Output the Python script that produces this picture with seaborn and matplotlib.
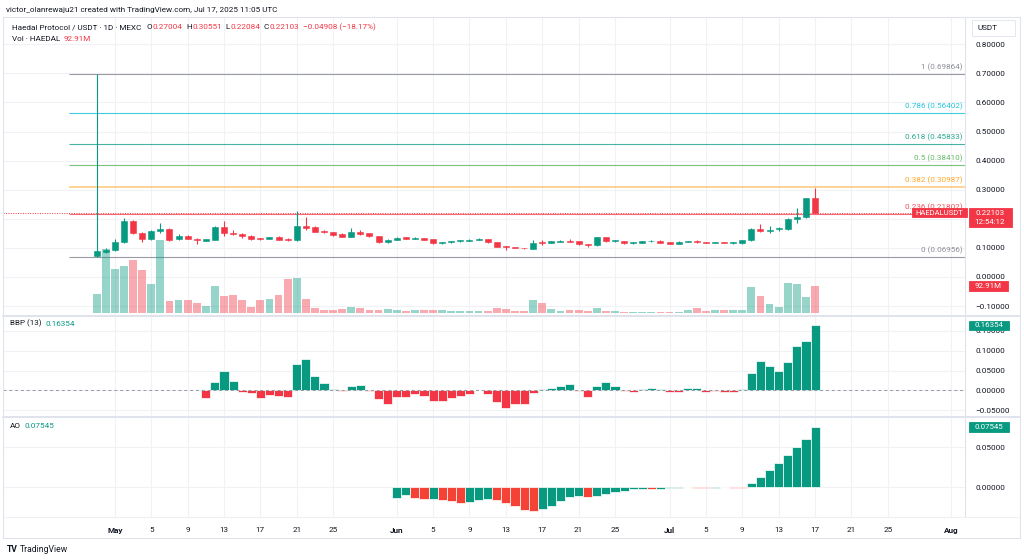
import numpy as np
import pandas as pd
import matplotlib
matplotlib.use("Agg")
import matplotlib.pyplot as plt
import matplotlib.dates as mdates
from matplotlib.ticker import FixedLocator, FuncFormatter
from matplotlib.patches import Rectangle
from matplotlib.lines import Line2D
from matplotlib.transforms import IdentityTransform
import seaborn as sns

# ---------------- data ----------------
dates = pd.date_range("2025-04-29", periods=80, freq="D")

open_ = [0.072, 0.087, 0.093, 0.121, 0.192, 0.152, 0.130, 0.158, 0.166, 0.130,
         0.141, 0.131, 0.125, 0.128, 0.173, 0.152, 0.149, 0.142, 0.132, 0.131,
         0.138, 0.130, 0.126, 0.175, 0.172, 0.157, 0.153, 0.148, 0.139, 0.155,
         0.150, 0.141, 0.120, 0.128, 0.136, 0.132, 0.133, 0.130, 0.116, 0.120,
         0.123, 0.124, 0.128, 0.130, 0.119, 0.105, 0.102, 0.100, 0.097, 0.119,
         0.117, 0.121, 0.125, 0.123, 0.113, 0.109, 0.136, 0.123, 0.123, 0.116,
         0.118, 0.122, 0.124, 0.119, 0.114, 0.121, 0.124, 0.120, 0.117, 0.120,
         0.117, 0.117, 0.126, 0.164, 0.158, 0.164, 0.166, 0.200, 0.207, 0.27004]
high = [0.69864, 0.099, 0.131, 0.204, 0.197, 0.155, 0.160, 0.184, 0.170, 0.148,
        0.143, 0.133, 0.132, 0.175, 0.193, 0.163, 0.152, 0.143, 0.134, 0.138,
        0.140, 0.133, 0.226, 0.207, 0.174, 0.160, 0.156, 0.150, 0.167, 0.163,
        0.152, 0.142, 0.129, 0.137, 0.137, 0.138, 0.135, 0.131, 0.121, 0.124,
        0.126, 0.129, 0.133, 0.131, 0.120, 0.106, 0.103, 0.101, 0.127, 0.127,
        0.123, 0.127, 0.129, 0.124, 0.114, 0.138, 0.138, 0.128, 0.124, 0.120,
        0.123, 0.126, 0.126, 0.120, 0.122, 0.125, 0.126, 0.121, 0.121, 0.121,
        0.121, 0.128, 0.170, 0.181, 0.175, 0.172, 0.203, 0.236, 0.272, 0.30551]
low = [0.06956, 0.083, 0.090, 0.118, 0.148, 0.121, 0.127, 0.152, 0.125, 0.128,
       0.129, 0.113, 0.122, 0.126, 0.142, 0.143, 0.133, 0.128, 0.128, 0.129,
       0.126, 0.125, 0.124, 0.163, 0.154, 0.151, 0.142, 0.137, 0.137, 0.145,
       0.139, 0.118, 0.116, 0.126, 0.130, 0.129, 0.126, 0.114, 0.114, 0.118,
       0.121, 0.122, 0.126, 0.117, 0.102, 0.094, 0.098, 0.097, 0.095, 0.111,
       0.116, 0.119, 0.119, 0.110, 0.102, 0.108, 0.121, 0.120, 0.115, 0.115,
       0.117, 0.120, 0.117, 0.113, 0.113, 0.120, 0.118, 0.116, 0.116, 0.116,
       0.115, 0.115, 0.125, 0.154, 0.151, 0.158, 0.163, 0.187, 0.203, 0.22084]
close = [0.088, 0.094, 0.121, 0.192, 0.152, 0.130, 0.158, 0.166, 0.128, 0.141,
         0.131, 0.126, 0.129, 0.173, 0.152, 0.148, 0.142, 0.130, 0.130, 0.137,
         0.128, 0.127, 0.175, 0.169, 0.156, 0.153, 0.146, 0.139, 0.154, 0.148,
         0.141, 0.120, 0.128, 0.135, 0.132, 0.134, 0.128, 0.116, 0.120, 0.123,
         0.125, 0.128, 0.130, 0.119, 0.104, 0.102, 0.099, 0.098, 0.118, 0.117,
         0.122, 0.125, 0.121, 0.112, 0.111, 0.136, 0.123, 0.125, 0.116, 0.118,
         0.122, 0.124, 0.118, 0.114, 0.121, 0.124, 0.119, 0.117, 0.120, 0.117,
         0.120, 0.127, 0.164, 0.157, 0.163, 0.166, 0.200, 0.207, 0.27004, 0.22103]
volume_m = [66.8, 221.6, 150.4, 160.7, 183.7, 149.3, 98.7, 250.1, 41.3, 43.7,
            43.7, 34.4, 25.5, 91.8, 58.5, 63.3, 43.7, 20.6, 46.1, 49.5,
            60.9, 117.0, 121.4, 48.2, 18.2, 11.4, 11.4, 13.8, 21.7, 17.2,
            11.4, 10.3, 13.8, 11.4, 7.9, 11.4, 9.3, 11.4, 9.3, 6.9,
            5.8, 7.9, 7.9, 7.9, 16.2, 13.8, 7.9, 7.9, 44.7, 35.4,
            13.8, 7.9, 9.3, 9.3, 5.8, 18.2, 6.9, 6.9, 4.5, 3.4,
            3.4, 3.4, 3.4, 3.4, 3.4, 9.3, 18.2, 7.9, 9.3, 9.3,
            9.3, 10.3, 89.4, 59.5, 32.0, 20.6, 104.2, 98.7, 55.0, 92.91]
bbp = [None] * 12 + [
    -0.020, 0.021, 0.050, 0.024, -0.005, -0.007, -0.020, -0.011, -0.015, -0.017,
    0.066, 0.079, 0.036, 0.019, 0.003, -0.0025, 0.010, 0.0125, -0.002, -0.0225,
    -0.035, -0.017, -0.016, -0.008, -0.015, -0.026, -0.026, -0.020, -0.014, -0.010,
    0.001, -0.008, -0.028, -0.043, -0.035, -0.035, -0.007, 0.003, 0.006, 0.012,
    0.015, -0.002, -0.0175, 0.012, 0.021, 0.011, -0.002, -0.004, 0.0025, 0.007,
    0.003, -0.005, -0.003, 0.007, 0.005, -0.003, -0.0025, -0.004, -0.004, 0.004,
    0.043, 0.075, 0.0625, 0.048, 0.072, 0.1125, 0.125, 0.16354]
ao = [None] * 33 + [
    -0.0133, -0.0100, -0.0142, -0.0154, -0.0146, -0.0163, -0.0175, -0.0196, -0.0192, -0.0167,
    -0.0154, -0.0167, -0.0204, -0.0242, -0.0292, -0.0295, -0.0275, -0.0233, -0.0179, -0.0129,
    -0.0113, -0.0125, -0.0113, -0.0083, -0.0063, -0.0046, -0.0021, -0.0019, -0.0025, -0.0020,
    -0.0012, -0.0008, -0.0004, -0.0008, -0.0009, -0.0005, -0.0004, -0.0006, -0.0007, 0.0050,
    0.0133, 0.0213, 0.0300, 0.0408, 0.0508, 0.0604, 0.07545]

fib_ratios = ["1", "0.786", "0.618", "0.5", "0.382", "0.236", "0"]
fib_prices = [0.69864, 0.56402, 0.45833, 0.38410, 0.30987, 0.21802, 0.06956]
fib_start = "2025-04-26"

last_price = 0.22103
last_volume = 92.91
countdown = "12:54:12"
bbp_last = 0.16354
ao_last = 0.07545

price_ticks = [-0.1, 0.0, 0.1, 0.2, 0.3, 0.4, 0.5, 0.6, 0.7, 0.8]
hidden_price_ticks = [0.2]          # covered by the last-price tag in the reference
bbp_ticks = [-0.05, 0.0, 0.05, 0.10, 0.15]
ao_ticks = [0.0, 0.05]
tick_dates = ["2025-05-01", "2025-05-05", "2025-05-09", "2025-05-13", "2025-05-17", "2025-05-21", "2025-05-25",
              "2025-06-01", "2025-06-05", "2025-06-09", "2025-06-13", "2025-06-17", "2025-06-21", "2025-06-25",
              "2025-07-01", "2025-07-05", "2025-07-09", "2025-07-13", "2025-07-17", "2025-07-21", "2025-07-25",
              "2025-08-01"]
tick_labels = ["May", "5", "9", "13", "17", "21", "25", "Jun", "5", "9", "13", "17", "21", "25",
               "Jul", "5", "9", "13", "17", "21", "25", "Aug"]
month_names = {"May", "Jun", "Jul", "Aug"}

header = "victor_olanrewaju21 created with TradingView.com, Jul 17, 2025 11:05 UTC"
symbol = "Haedal Protocol / USDT \u00b7 1D \u00b7 MEXC"
ohlc_text = [("O", "0.27004"), ("H", "0.30551"), ("L", "0.22084"), ("C", "0.22103")]
change_text = "\u22120.04908 (\u221218.17%)"

# ---------------- style ----------------
UP = "#089981"
DN = "#F23645"
AO_DN = "#F44336"
TXT = "#131722"
GRID = "#F0F2F6"
BORDER = "#E0E3EB"
fib_colors = ["#787B86", "#00BCD4", "#089981", "#4CAF50", "#FF9800", "#F23645", "#787B86"]
FS = 5.9

sns.set_theme(style="white")
plt.rcParams["font.family"] = ["Roboto", "DejaVu Sans"]
plt.rcParams["axes.unicode_minus"] = True

W, H = 1024, 560
fig = plt.figure(figsize=(W / 100, H / 100), dpi=100, facecolor="white")
IDT = IdentityTransform()


def rect(x0, y0, x1, y1):
    return [x0 / W, 1 - y1 / H, (x1 - x0) / W, (y1 - y0) / H]


PL, PR = 3, 965
ax = fig.add_axes(rect(PL, 17, PR, 315))
axv = ax.twinx()
axb = fig.add_axes(rect(PL, 316.5, PR, 416), sharex=ax)
axa = fig.add_axes(rect(PL, 417.5, PR, 517), sharex=ax)

x = mdates.date2num(dates)
o = np.array(open_); h = np.array(high); l = np.array(low); c = np.array(close)
up = c >= o
cols = np.where(up, UP, DN)

# volume overlay (seaborn)
vdf = pd.DataFrame({"x": x, "vol": volume_m, "dir": np.where(up, "up", "down")})
sns.barplot(data=vdf, x="x", y="vol", hue="dir", palette={"up": UP, "down": DN},
            native_scale=True, width=0.86, dodge=False, errorbar=None, saturation=1,
            alpha=0.42, linewidth=0, legend=False, ax=axv)

# candles
ax.vlines(x, l, h, colors=cols, lw=0.8, zorder=3)
body_bot = np.minimum(o, c)
body_h = np.maximum(np.abs(c - o), 0.0028)
ax.bar(x, body_h, bottom=body_bot, width=0.66, color=cols, edgecolor=cols, lw=0.4, zorder=4)

# fib levels
fs_x = mdates.date2num(pd.Timestamp(fib_start))
XL = (x[0] - 10.30, x[0] + 95.49)
for lab, p, col in zip(fib_ratios, fib_prices, fib_colors):
    lw = 1.3 if lab == "0.382" else 0.8
    al = 0.45 if lab == "0.382" else 0.75
    ax.hlines(p, fs_x, XL[1], colors=col, lw=lw, alpha=al, zorder=2)
    ax.annotate(f"{lab} ({p:.5f})", xy=(1, p), xycoords=("axes fraction", "data"),
                xytext=(-1.5, 2.2), textcoords="offset points", ha="right", va="bottom",
                fontsize=FS, color=col, alpha=0.85, zorder=5)
ax.axhline(last_price, color=DN, lw=0.7, ls=(0, (1, 1.5)), zorder=2)

# BBP (seaborn)
bdf = pd.DataFrame({"x": x, "v": bbp}).dropna()
bdf["v"] = bdf["v"].astype(float)
bdf["dir"] = np.where(bdf["v"] >= 0, "up", "down")
sns.barplot(data=bdf, x="x", y="v", hue="dir", palette={"up": UP, "down": DN},
            native_scale=True, width=1.0, dodge=False, errorbar=None, saturation=1,
            edgecolor="white", linewidth=0.5, legend=False, ax=axb)
axb.axhline(0, color="#9598A1", lw=0.7, ls=(0, (3, 3)), zorder=1)

# AO (seaborn)
adf = pd.DataFrame({"x": x, "v": ao}).dropna()
adf["v"] = adf["v"].astype(float)
d = adf["v"].diff().fillna(1.0)
adf["dir"] = np.where(d >= 0, "up", "down")
sns.barplot(data=adf, x="x", y="v", hue="dir", palette={"up": UP, "down": AO_DN},
            native_scale=True, width=1.0, dodge=False, errorbar=None, saturation=1,
            edgecolor="white", linewidth=0.5, legend=False, ax=axa)


def make_fmt(hidden):
    def fmt(v, _):
        if any(abs(v - hv) < 1e-9 for hv in hidden):
            return ""
        if abs(v) < 1e-12:
            v = 0.0
        return f"{v:.5f}".replace("-", "\u2212")
    return fmt


for a, ticks, lim, hid in [(ax, price_ticks, (-0.1306, 0.8935), hidden_price_ticks),
                           (axb, bbp_ticks, (-0.0643, 0.1858), []),
                           (axa, ao_ticks, (-0.0375, 0.0875), [])]:
    a.set_facecolor("white")
    a.yaxis.tick_right()
    a.set_ylim(*lim)
    a.yaxis.set_major_locator(FixedLocator(ticks))
    a.yaxis.set_major_formatter(FuncFormatter(make_fmt(hid)))
    a.tick_params(axis="y", length=0, pad=7.2, labelsize=FS, labelcolor=TXT)
    a.tick_params(axis="x", length=0, labelsize=FS, labelcolor=TXT)
    for s in a.spines.values():
        s.set_visible(False)
    a.grid(True, color=GRID, lw=0.8)
    a.set_axisbelow(True)
    a.set_xlabel("")
    a.set_ylabel("")

axv.set_ylim(-6.9, 1018)
axv.axis("off")

axa.set_xlim(*XL)
axa.set_xticks(mdates.date2num(pd.to_datetime(tick_dates)))
axa.set_xticklabels(tick_labels)
for t in axa.get_xticklabels():
    if t.get_text() in month_names:
        t.set_fontweight("bold")
axa.tick_params(axis="x", pad=7.0)
ax.tick_params(axis="x", labelbottom=False)
axb.tick_params(axis="x", labelbottom=False)
ax.set_xlim(*XL)


# ---------------- frame ----------------
def hl(y, x0, x1, color=BORDER, lw=0.8):
    fig.add_artist(Line2D([x0, x1], [H - y, H - y], transform=IDT, color=color, lw=lw))


def vl(xp, y0, y1, color=BORDER, lw=0.8):
    fig.add_artist(Line2D([xp, xp], [H - y0, H - y1], transform=IDT, color=color, lw=lw))


hl(17, 3, 1020)
hl(538, 3, 1020)
vl(3, 17, 538)
vl(1020, 17, 538)
vl(965, 17, 517)
hl(315.8, 3, 1020, lw=1.4)
hl(416.8, 3, 1020, lw=1.4)
hl(517, 3, 1020, color="#EEF0F3")


# ---------------- tags ----------------
def ydisp(a, v):
    return a.transData.transform((XL[0], v))[1]


def box(x0, x1, ytop_d, hgt, fc, ec=None):
    fig.add_artist(Rectangle((x0, ytop_d - hgt), x1 - x0, hgt, transform=IDT,
                             fc=fc, ec=ec or fc, lw=0.6, zorder=5))


def label(xp, yd, s, color="white", ha="center", fs=FS, weight="normal"):
    return fig.text(xp, yd, s, transform=IDT, ha=ha, va="center", fontsize=fs,
                    color=color, zorder=6, fontweight=weight)


# USDT box
box(971.5, 1015, H - 20, 16, "white", BORDER)
label(977, H - 28, "USDT", color=TXT, ha="left")

# last price + countdown
yp = ydisp(ax, last_price)
box(968.5, 1012, yp + 4.6, 19.2, DN)
label(990, yp, f"{last_price:.5f}", fs=5.7)
label(990, yp - 9.3, countdown, fs=5.7)
box(912, 966.5, yp + 4.6, 9.2, DN)
label(939, yp - 0.2, "HAEDALUSDT", fs=5.5)

# volume tag
yv = axv.transData.transform((XL[0], last_volume))[1]
box(968.5, 1007.5, yv + 4.7, 9.4, DN)
label(988, yv, f"{last_volume:.2f}M", fs=5.7)

# BBP tag
yb = ydisp(axb, bbp_last)
box(968.5, 1009, yb + 4.8, 9.6, UP)
label(988.7, yb, f"{bbp_last:.5f}", fs=5.7)

# AO tag
ya = ydisp(axa, ao_last)
box(968.5, 1009, ya + 4.8, 9.6, UP)
label(988.7, ya, f"{ao_last:.5f}", fs=5.7)

# ---------------- header texts ----------------
label(6, H - 10, header, color=TXT, ha="left")

renderer = fig.canvas.get_renderer()


def chain(xp, yd, parts):
    for s, col, gap in parts:
        t = label(xp, yd, s, color=col, ha="left")
        bb = t.get_window_extent(renderer=renderer)
        xp = bb.x1 + gap
    return xp


parts = [(symbol, TXT, 5.5)]
for k, v in ohlc_text:
    parts += [(k, TXT, 0.6), (v, DN, 3.6)]
parts += [(change_text, DN, 0)]
chain(11.7, H - 27.3, parts)
chain(11.7, H - 38.7, [("Vol \u00b7 HAEDAL", TXT, 3.6), (f"{last_volume:.2f}M", DN, 0)])
chain(10, H - 323.5, [("BBP (13)", TXT, 3.6), (f"{bbp_last:.5f}", UP, 0)])
chain(10, H - 426.5, [("AO", TXT, 3.6), (f"{ao_last:.5f}", UP, 0)])

# TradingView mark
label(7, H - 549, "TV", color=TXT, ha="left", fs=6.2, weight="bold")
label(20, H - 549, "TradingView", color=TXT, ha="left", fs=6.2)

fig.savefig("out.png", dpi=100, facecolor="white")
